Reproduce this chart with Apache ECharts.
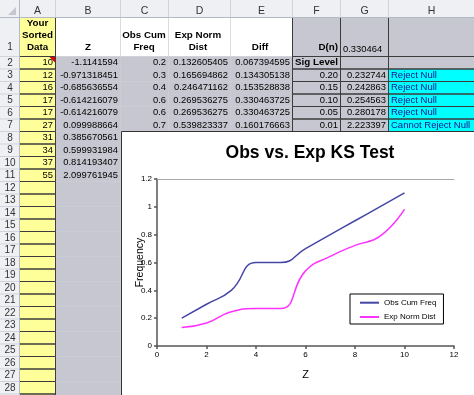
<!DOCTYPE html>
<html><head><meta charset="utf-8">
<script src="https://cdn.jsdelivr.net/npm/echarts@6/dist/echarts.min.js"></script>
<style>html,body{margin:0;padding:0;background:#fff;overflow:hidden}#main{width:474px;height:395px;}</style>
</head><body><div id="main"></div>
<script>
// ---------- data ----------
const columnLetters = ['A','B','C','D','E','F','G','H'];
const rowLabels = ['1','2','3','4','5','6','7','8','9','10','11','12','13','14','15','16','17','18','19','20','21','22','23','24','25','26','27','28','29'];
const headerA = ['Your','Sorted','Data'];
const headerB = ['Z'];
const headerC = ['Obs Cum','Freq'];
const headerD = ['Exp Norm','Dist'];
const headerE = ['Diff'];
const sortedData = [10,12,16,17,17,27,31,34,37,55];
const zValues = ['-1.1141594','-0.971318451','-0.685636554','-0.614216079','-0.614216079','0.099988664','0.385670561','0.599931984','0.814193407','2.099761945'];
const zIndex = [1,2,3,4,5,6,7,8,9,10];
const obsCumFreq = [0.2,0.3,0.4,0.6,0.6,0.7,0.8,0.9,1.0,1.1];
const expNormDist = [0.132605405,0.165694862,0.246471162,0.269536275,0.269536275,0.539823337,0.644,0.723,0.788,0.982];
const diffValues = ['0.067394595','0.134305138','0.153528838','0.330463725','0.330463725','0.160176663'];
const dnLabel = 'D(n)';
const dnValue = '0.330464';
const sigLabel = 'Sig Level';
const sigLevels = ['0.20','0.15','0.10','0.05','0.01'];
const criticalValues = ['0.232744','0.242863','0.254563','0.280178','2.223397'];
const decisions = ['Reject Null','Reject Null','Reject Null','Reject Null','Cannot Reject Null'];
const chartTitle = 'Obs vs. Exp KS Test';
const seriesNames = ['Obs Cum Freq','Exp Norm Dist'];
const xAxisName = 'Z';
const yAxisName = 'Frequency';

// ---------- layout ----------
const FONT = '"Liberation Sans", Arial, sans-serif';
const NUM = 9.4;
const HB = 9.8;
const colEdges = [0,19,55,120,168,230,292,340,388,474];
function rowTop(r){ return r === 1 ? 17 : 56 + (r - 2) * 12.5; }
function rowH(r){ return r === 1 ? 39 : 12.5; }
function cl(c){ return colEdges[c + 1]; }      // c: 0 = A
function cr(c){ return colEdges[c + 2]; }
const els = [];
function rect(x, y, w, h, fill, stroke, lw){
  els.push({type:'rect', z:-1, silent:true, shape:{x:x, y:y, width:w, height:h},
    style:{fill:fill || 'none', stroke:stroke || 'none', lineWidth: lw || 1}});
}
function line(x1, y1, x2, y2, color, lw){
  els.push({type:'line', z:-1, silent:true, shape:{x1:x1, y1:y1, x2:x2, y2:y2},
    style:{stroke:color, lineWidth: lw || 1}});
}
function text(t, x, y, align, opts){
  opts = opts || {};
  els.push({type:'text', z:-1, silent:true, style:{text:t, x:x, y:y,
    align:align, textAlign:align, verticalAlign:'middle', textVerticalAlign:'middle',
    fontSize: opts.size || NUM, fontWeight: opts.bold ? 'bold' : 'normal',
    fontFamily: FONT, fill: opts.color || '#000'}});
}
function cellRect(c, r, fill, stroke){
  rect(cl(c) + 0.5, rowTop(r) + 0.5, cr(c) - cl(c), rowH(r), fill, stroke);
}
function cellMid(r){ return rowTop(r) + rowH(r) / 2 + 0.5; }

// sheet background + gridlines
rect(0, 0, 474, 395, '#ffffff');
for (let i = 1; i < colEdges.length; i++) line(colEdges[i] + 0.5, 17, colEdges[i] + 0.5, 395, '#d9dde3');
for (let r = 1; r <= 30; r++) line(19, rowTop(r) + 0.5, 474, rowTop(r) + 0.5, '#d9dde3');

// colored cells
const GRAY = '#c6c7d0';
for (let r = 2; r <= 29; r++) for (let c = 1; c <= 4; c++) cellRect(c, r, GRAY);
cellRect(5, 1, GRAY); cellRect(6, 1, GRAY); cellRect(7, 1, GRAY);
for (let r = 2; r <= 7; r++) { cellRect(5, r, GRAY); cellRect(6, r, GRAY); cellRect(7, r, r === 2 ? GRAY : '#00ffff'); }
for (let r = 1; r <= 29; r++) cellRect(0, r, '#ffff99');
// dark borders
for (let r = 1; r <= 29; r++) cellRect(0, r, null, '#3c3c3c');
for (let r = 1; r <= 7; r++) for (let c = 5; c <= 7; c++) cellRect(c, r, null, '#3c3c3c');

// headers
rect(0, 0, 474, 17, '#eef0f3');
rect(0, 17, 19, 378, '#eef0f3');
line(0, 17.5, 474, 17.5, '#b4bac4');
line(19.5, 0, 19.5, 395, '#b4bac4');
for (let i = 2; i < colEdges.length; i++) line(colEdges[i] + 0.5, 0, colEdges[i] + 0.5, 17, '#cfd4db');
for (let r = 2; r <= 30; r++) line(0, rowTop(r) + 0.5, 19, rowTop(r) + 0.5, '#cfd4db');
els.push({type:'polygon', z:-1, silent:true, shape:{points:[[16,7],[16,15],[8,15]]}, style:{fill:'#c4c8ce'}});
columnLetters.forEach(function(l, c){ text(l, (cl(c) + cr(c)) / 2 + 0.5, 11.5, 'center', {size:10.5, color:'#333'}); });
rowLabels.forEach(function(l, i){ const r = i + 1; text(l, 10, r === 1 ? 47.5 : cellMid(r), 'center', {size:10, color:'#333'}); });

// row 1 headers
headerA.forEach(function(t, i){ text(t, 37.5, 23 + i * 12.3, 'center', {bold:true, size:HB}); });
headerB.forEach(function(t){ text(t, 88, 47.5, 'center', {bold:true, size:HB}); });
headerC.forEach(function(t, i){ text(t, 144, 35 + i * 12.2, 'center', {bold:true, size:HB}); });
headerD.forEach(function(t, i){ text(t, 198, 35 + i * 12.2, 'center', {bold:true, size:HB}); });
headerE.forEach(function(t){ text(t, 260, 47.5, 'center', {bold:true, size:HB}); });
text(dnLabel, 338, 47.5, 'right', {bold:true, size:HB});
text(dnValue, 343, 49.5, 'left');
text(sigLabel, 295, cellMid(2), 'left', {bold:true, size:HB});

// values
sortedData.forEach(function(v, i){ text(String(v), cr(0) - 2, cellMid(i + 2), 'right'); });
zValues.forEach(function(v, i){ text(v, cr(1) - 2, cellMid(i + 2), 'right'); });
for (let i = 0; i < 6; i++) {
  text(String(obsCumFreq[i]), cr(2) - 2, cellMid(i + 2), 'right');
  text(String(expNormDist[i]), cr(3) - 2, cellMid(i + 2), 'right');
}
diffValues.forEach(function(v, i){ text(v, cr(4) - 2, cellMid(i + 2), 'right'); });
sigLevels.forEach(function(v, i){ text(v, cr(5) - 2, cellMid(i + 3), 'right'); });
criticalValues.forEach(function(v, i){ text(v, cr(6) - 2, cellMid(i + 3), 'right'); });
decisions.forEach(function(v, i){ text(v, cl(7) + 3, cellMid(i + 3), 'left', {color:'#12128c', size:9.5}); });
// comment marker
els.push({type:'polygon', z:-1, silent:true, shape:{points:[[49.5,57],[55,57],[55,62.5]]}, style:{fill:'#e00000'}});
// chart frame
rect(121.5, 131.5, 360, 270, '#ffffff', '#333333', 1);

const AX = {color:'#555555', width:1.5};
const chart = echarts.init(document.getElementById('main'), null, {renderer:'canvas'});
chart.setOption({
  animation:false,
  backgroundColor:'#ffffff',
  graphic:{elements:els},
  title:{text:chartTitle, left:310, top:144, textAlign:'center', padding:0,
    textStyle:{fontSize:17.5, fontWeight:'bold', fontFamily:FONT, color:'#000'}},
  legend:{orient:'vertical', left:350, top:294, padding:[4.7,7,3,9], itemWidth:19, itemHeight:8, itemGap:6.3,
    borderColor:'#000', borderWidth:1, backgroundColor:'#fff',
    itemStyle:{color:'rgba(0,0,0,0)', opacity:0, borderWidth:0},
    textStyle:{fontSize:8, fontFamily:FONT, color:'#000'}, data:seriesNames},
  grid:{left:157, right:20, top:179, bottom:49},
  xAxis:[{type:'value', min:0, max:12, interval:2, position:'bottom',
    axisLine:{lineStyle:AX}, axisTick:{length:3, lineStyle:AX}, splitLine:{show:false},
    axisLabel:{fontSize:8, fontFamily:FONT, color:'#000', margin:5},
    name:xAxisName, nameLocation:'middle', nameGap:23, nameMoveOverlap:false,
    nameTextStyle:{fontSize:11, fontFamily:FONT, color:'#000'}},
    {type:'value', min:0, max:12, interval:2, position:'top',
    axisLine:{lineStyle:{color:'#a8a8a8', width:1}}, axisTick:{show:false}, axisLabel:{show:false}, splitLine:{show:false}}],
  yAxis:{type:'value', min:0, max:1.2, interval:0.2,
    axisLine:{show:true, lineStyle:AX}, axisTick:{show:true, length:3, lineStyle:AX}, splitLine:{show:false},
    axisLabel:{fontSize:8, fontFamily:FONT, color:'#000', margin:5},
    name:yAxisName, nameLocation:'middle', nameRotate:90, nameGap:11, nameMoveOverlap:false,
    nameTextStyle:{fontSize:10.5, fontFamily:FONT, color:'#000'}},
  series:[
    {name:seriesNames[0], type:'line', smooth:true, symbol:'none', xAxisIndex:0,
      lineStyle:{color:'#4646a6', width:1.5}, itemStyle:{color:'#4646a6'},
      data:zIndex.map(function(x, i){ return [x, obsCumFreq[i]]; })},
    {name:seriesNames[1], type:'line', smooth:true, symbol:'none', xAxisIndex:0,
      lineStyle:{color:'#ff33ff', width:1.5}, itemStyle:{color:'#ff33ff'},
      data:zIndex.map(function(x, i){ return [x, expNormDist[i]]; })}
  ]
});
</script></body></html>
